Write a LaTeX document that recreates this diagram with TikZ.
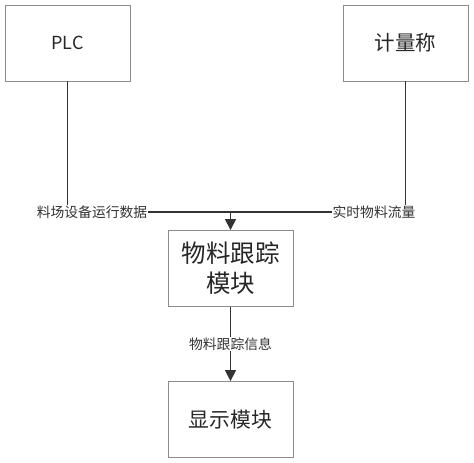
\documentclass[tikz,border=0pt]{standalone}
\usepackage{fontspec}
\newfontfamily\cjk{Noto Sans CJK SC}
\usetikzlibrary{arrows.meta}

\tikzset{
	box/.style={draw=black!45, line width=0.9pt, minimum width=125pt, minimum height=76pt, align=center, inner sep=0pt, text=black!85},
	wire/.style={draw=black!80, line width=1.7pt},
	tip/.style={-{Triangle[width=11pt,length=11pt]}},
	lab/.style={fill=white, inner sep=1pt, text=black!80, font=\cjk\fontsize{13.8}{15}\selectfont}
}

\begin{document}
\begin{tikzpicture}[x=1pt, y=-1pt]
	%%%%% START %%%%%
	
	\useasboundingbox (0, 0) rectangle (474, 463);
	
	\node[box, font=\cjk\fontsize{18}{20}\selectfont] (plc) at (67.5, 43) {PLC};
	\node[box, font=\cjk\fontsize{20.5}{22}\selectfont] (scale) at (405.5, 43) {计量称};
	\node[box, font=\cjk\fontsize{24.5}{30}\selectfont] (track) at (230.5, 268.5) {物料跟踪\\模块};
	\node[box, font=\cjk\fontsize{20.8}{22}\selectfont] (show) at (230.5, 419.5) {显示模块};
	
	\coordinate (join) at (230.5, 212);
	\draw[wire] (plc.south) |- (join);
	\draw[wire] (scale.south) |- (join);
	\draw[wire, tip] (join) -- (track.north);
	
	\node[lab] (labplc) at (92, 212) {料场设备运行数据};
	\node[lab] (labscale) at (374, 212) {实时物料流量};
	
	\draw[wire, tip] (track.south) -- (show.north) node[lab, pos=0.5] (labtrack) {物料跟踪信息};
	
	%%%%% END %%%%%
\end{tikzpicture}
\end{document}
